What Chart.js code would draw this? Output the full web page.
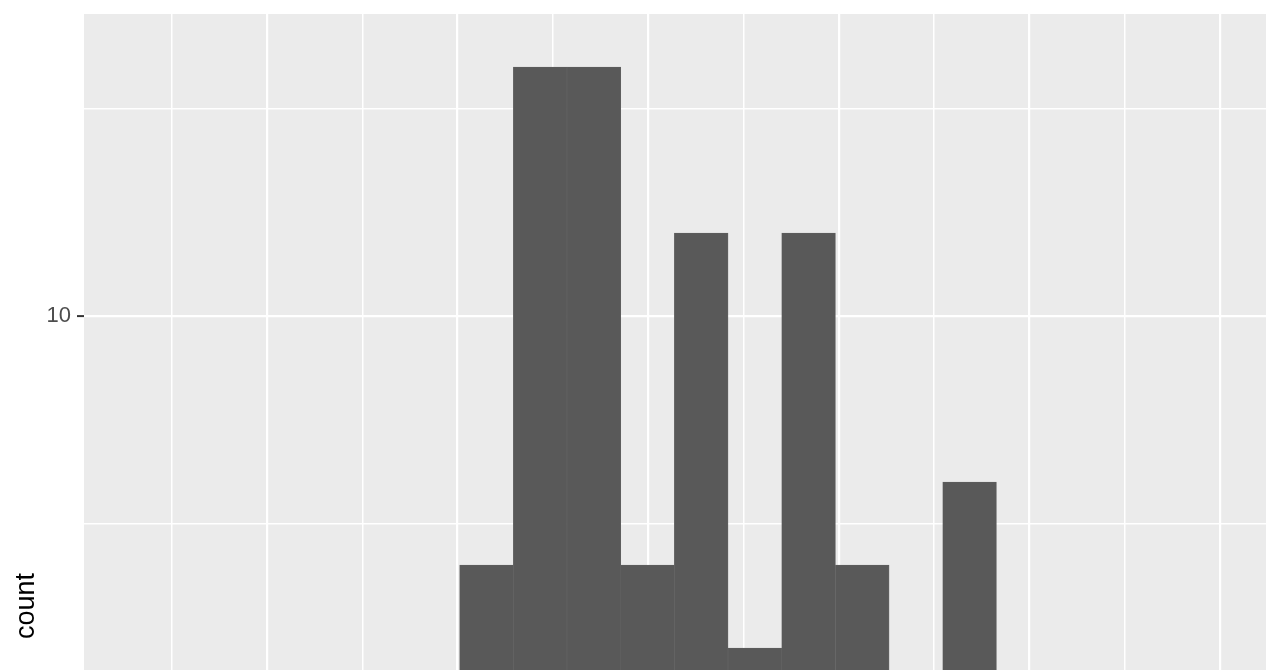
<!DOCTYPE html>
<html>
<head>
<meta charset="utf-8">
<script src="https://cdn.jsdelivr.net/npm/chart.js@4.4.1/dist/chart.umd.min.js"></script>
<style>
  html, body { margin: 0; padding: 0; background: #ffffff; }
  #wrap { width: 1280px; height: 670px; }
</style>
</head>
<body>
<div id="wrap"><canvas id="myChart" width="1280" height="670"></canvas></div>
<script>
// bin edges (x units where the vertical grid lines sit on whole numbers)
const binEdges = [0.643, 1.206, 1.769, 2.333, 2.896, 3.459, 4.022, 4.585, 5.149, 5.712,
                  6.275, 6.838, 7.401, 7.965, 8.528, 9.091, 9.654, 10.217, 10.780, 11.344, 11.907];
// counts per bin (bins below the cropped bottom are estimates)
const counts = [1, 0, 1, 2, 3, 4, 7, 13, 13, 7, 11, 6, 11, 7, 3, 8, 2, 1, 0, 1];
const xGridValues = [1, 2, 3, 4, 5, 6, 7, 8, 9, 10, 11, 12];
const xMajorValues = [2, 4, 6, 8, 10, 12];
const yGridValues = [7.5, 10, 12.5];
const yTickLabels = { 10: '10' };

const points = counts.map((c, i) => ({ x: (binEdges[i] + binEdges[i + 1]) / 2, y: c }));

const panelBg = {
    id: 'panelBg',
    beforeDraw(chart) {
        const { ctx, chartArea } = chart;
        ctx.save();
        ctx.fillStyle = '#ebebeb';
        ctx.fillRect(chartArea.left, chartArea.top, chartArea.right - chartArea.left, chartArea.bottom - chartArea.top);
        ctx.restore();
    },
    afterDraw(chart) {
        const ctx = chart.ctx;
        ctx.save();
        ctx.translate(34, 606);
        ctx.rotate(-Math.PI / 2);
        ctx.fillStyle = '#000000';
        ctx.font = '27px "Liberation Sans", Arial, sans-serif';
        ctx.textAlign = 'center';
        ctx.textBaseline = 'alphabetic';
        ctx.fillText('count', 0, 0);
        ctx.restore();
    }
};

const ctx = document.getElementById('myChart');

new Chart(ctx, {
    type: 'bar',
    data: {
        datasets: [{
            label: 'count',
            data: points,
            backgroundColor: '#595959',
            borderColor: '#636363',
            borderWidth: 0.6,
            barPercentage: 1,
            categoryPercentage: 1
        }]
    },
    options: {
        responsive: false,
        animation: false,
        devicePixelRatio: 1,
        layout: { padding: { top: 14, right: 14, left: 0, bottom: 0 } },
        plugins: { legend: { display: false }, tooltip: { enabled: false } },
        scales: {
            x: {
                type: 'linear',
                offset: false,
                min: 0.080,
                max: 12.483,
                border: { display: false },
                ticks: { display: false },
                grid: {
                    offset: false,
                    drawTicks: false,
                    color: '#ffffff',
                    lineWidth: c => xMajorValues.includes(c.tick && c.tick.value) ? 2.2 : 1.5
                },
                afterBuildTicks: scale => { scale.ticks = xGridValues.map(v => ({ value: v })); },
                afterFit: scale => {
                    scale.height = 0;
                    scale.paddingLeft = 0; scale.paddingRight = 0;
                    scale.paddingTop = 0; scale.paddingBottom = 0;
                }
            },
            y: {
                min: 5.735,
                max: 13.639,
                border: { display: false },
                grid: {
                    color: '#ffffff',
                    lineWidth: c => (c.tick && c.tick.value === 10) ? 2.2 : 1.5,
                    tickLength: 7,
                    tickColor: c => (c.tick && c.tick.value === 10) ? '#333333' : 'rgba(0,0,0,0)',
                    tickWidth: 2
                },
                ticks: {
                    autoSkip: false,
                    padding: 6,
                    color: '#4d4d4d',
                    font: { family: '"Liberation Sans", Arial, sans-serif', size: 22 },
                    callback: v => yTickLabels[v] || ''
                },
                afterBuildTicks: scale => { scale.ticks = yGridValues.map(v => ({ value: v })); },
                afterFit: scale => {
                    scale.width = 84;
                    scale.paddingTop = 0; scale.paddingBottom = 0;
                    scale.paddingLeft = 0; scale.paddingRight = 0;
                }
            }
        }
    },
    plugins: [panelBg]
});
</script>
</body>
</html>
